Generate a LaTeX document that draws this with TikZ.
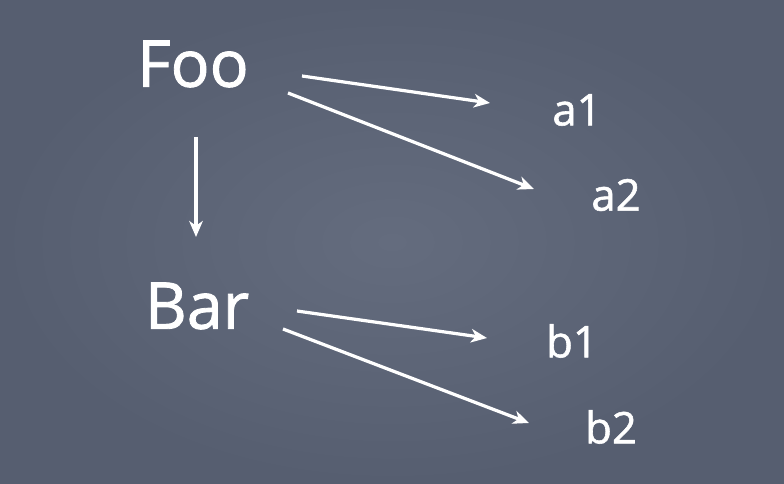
\documentclass[tikz,border=0pt]{standalone}
\usepackage{fontspec}
\setmainfont{Open Sans}
\newfontfamily\chalkfont{Open Sans}[FakeBold=1.3]
\usetikzlibrary{positioning, arrows.meta}
\definecolor{board}{RGB}{86,94,112}
\definecolor{boardlight}{RGB}{100,108,126}

\begin{document}
\begin{tikzpicture}[
  x=0.025cm, y=-0.025cm,
  big/.style={text=white, inner sep=0pt, font=\chalkfont\fontsize{46}{50}\selectfont},
  small/.style={text=white, inner sep=0pt, font=\chalkfont\fontsize{31}{34}\selectfont},
  arrow/.style={-{Stealth[length=4mm, width=3.4mm, inset=1.2mm]}, white, line width=2.3pt}
]
  % Board
  \shade[inner color=boardlight, outer color=board] (0,0) rectangle (784,484);
  \useasboundingbox (0,0) rectangle (784,484);

  % Nodes
  \node[big] (foo) at (193,64) {Foo};
  \node[big] (bar) at (197,306) {Bar};
  \node[small] (a1) at (577,110) {a1};
  \node[small] (a2) at (616,195) {a2};
  \node[small] (b1) at (572,341) {b1};
  \node[small] (b2) at (611,427) {b2};

  % Arrows
  \draw[arrow] ([shift={(109,12)}]foo.center) -- ([shift={(-87,-7)}]a1.center);
  \draw[arrow] ([shift={(95,29)}]foo.center) -- ([shift={(-82,-6)}]a2.center);
  \draw[arrow] ([shift={(3,73)}]foo.center) -- ([shift={(-1,-69)}]bar.center);
  \draw[arrow] ([shift={(100,5)}]bar.center) -- ([shift={(-85,-3)}]b1.center);
  \draw[arrow] ([shift={(86,23)}]bar.center) -- ([shift={(-82,-4)}]b2.center);
\end{tikzpicture}
\end{document}
